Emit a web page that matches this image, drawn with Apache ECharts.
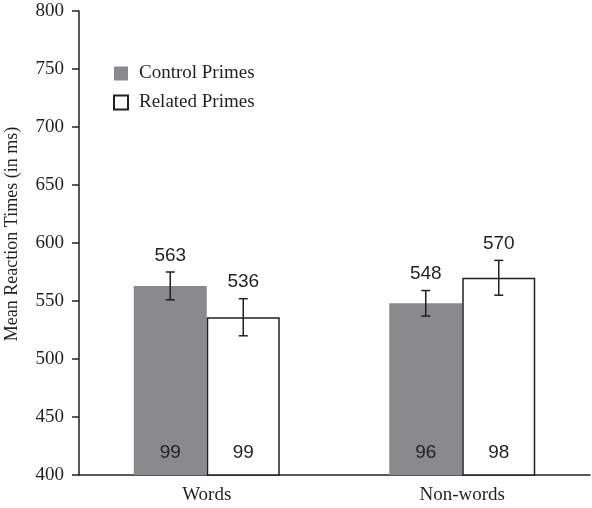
<!DOCTYPE html>
<html>
<head>
<meta charset="utf-8">
<script src="https://cdn.jsdelivr.net/npm/echarts@6/dist/echarts.min.js"></script>
<style>
html, body { margin: 0; padding: 0; background: #fff; }
#main { width: 592px; height: 508px; }
</style>
</head>
<body>
<div id="main"></div>
<script>
var categories = ['Words', 'Non-words'];
var controlMeans = [563, 548];
var relatedMeans = [536, 570];
var controlErr = [12, 11];
var relatedErr = [16, 15];
var controlN = [99, 96];
var relatedN = [99, 98];

var BAR_W = 73;

function errorSeries(means, errs, side) {
    var data = [];
    for (var i = 0; i < means.length; i++) {
        data.push([i, means[i], means[i] - errs[i], means[i] + errs[i]]);
    }
    return {
        type: 'custom',
        name: 'err' + side,
        z: 10,
        data: data,
        renderItem: function (params, api) {
            var x = api.value(0);
            var lo = api.coord([x, api.value(2)]);
            var hi = api.coord([x, api.value(3)]);
            var cx = lo[0] + side * BAR_W / 2;
            var cap = 4.5;
            var st = {stroke: '#231f20', lineWidth: 1.5};
            return {
                type: 'group',
                children: [
                    {type: 'line', shape: {x1: cx, y1: lo[1], x2: cx, y2: hi[1]}, style: st},
                    {type: 'line', shape: {x1: cx - cap, y1: lo[1], x2: cx + cap, y2: lo[1]}, style: st},
                    {type: 'line', shape: {x1: cx - cap, y1: hi[1], x2: cx + cap, y2: hi[1]}, style: st},
                    {type: 'text', style: {
                        x: cx, y: hi[1] - 7, text: String(api.value(1)),
                        align: 'center', verticalAlign: 'bottom',
                        font: '19px "Liberation Sans", Arial, sans-serif', fill: '#231f20'
                    }}
                ]
            };
        }
    };
}

var option = {
    animation: false,
    grid: {left: 79, right: 2, top: 11, bottom: 33, outerBoundsMode: 'none', containLabel: false},
    legend: {
        orient: 'vertical',
        left: 108,
        top: 59,
        icon: 'rect',
        itemWidth: 14,
        itemHeight: 14,
        itemGap: 10,
        data: ['Control Primes', 'Related Primes'],
        textStyle: {fontFamily: 'Liberation Serif', fontSize: 19, color: '#231f20', padding: [0, 0, 0, 6]}
    },
    xAxis: {
        type: 'category',
        data: categories,
        axisLine: {lineStyle: {color: '#231f20', width: 1.5}},
        axisTick: {length: 7, lineStyle: {color: '#231f20', width: 1.5}},
        axisLabel: {fontFamily: 'Liberation Serif', fontSize: 19, color: '#231f20', margin: 11}
    },
    yAxis: {
        type: 'value',
        min: 400,
        max: 800,
        interval: 50,
        name: 'Mean Reaction Times (in ms)',
        nameLocation: 'middle',
        nameGap: 58,
        nameTextStyle: {fontFamily: 'Liberation Serif', fontSize: 18, color: '#231f20', padding: [0, 0, 0, 18]},
        splitLine: {show: false},
        axisLine: {show: true, lineStyle: {color: '#231f20', width: 1.5}},
        axisTick: {show: true, length: 7, lineStyle: {color: '#231f20', width: 1.5}},
        axisLabel: {fontFamily: 'Liberation Serif', fontSize: 19, color: '#231f20', margin: 15}
    },
    series: [
        {
            name: 'Control Primes',
            type: 'bar',
            barWidth: BAR_W,
            barGap: '0%',
            data: controlMeans,
            itemStyle: {color: '#8a8a8c'},
            label: {
                show: true,
                position: 'insideBottom',
                distance: 13,
                formatter: function (p) { return controlN[p.dataIndex]; },
                fontFamily: 'Liberation Sans', fontSize: 19, color: '#231f20'
            }
        },
        {
            name: 'Related Primes',
            type: 'bar',
            barWidth: BAR_W,
            barGap: '0%',
            data: relatedMeans,
            itemStyle: {color: '#ffffff', borderColor: '#231f20', borderWidth: 1.5},
            label: {
                show: true,
                position: 'insideBottom',
                distance: 13,
                formatter: function (p) { return relatedN[p.dataIndex]; },
                fontFamily: 'Liberation Sans', fontSize: 19, color: '#231f20'
            }
        },
        errorSeries(controlMeans, controlErr, -1),
        errorSeries(relatedMeans, relatedErr, 1)
    ]
};

var chart = echarts.init(document.getElementById('main'));
chart.setOption(option);
</script>
</body>
</html>
